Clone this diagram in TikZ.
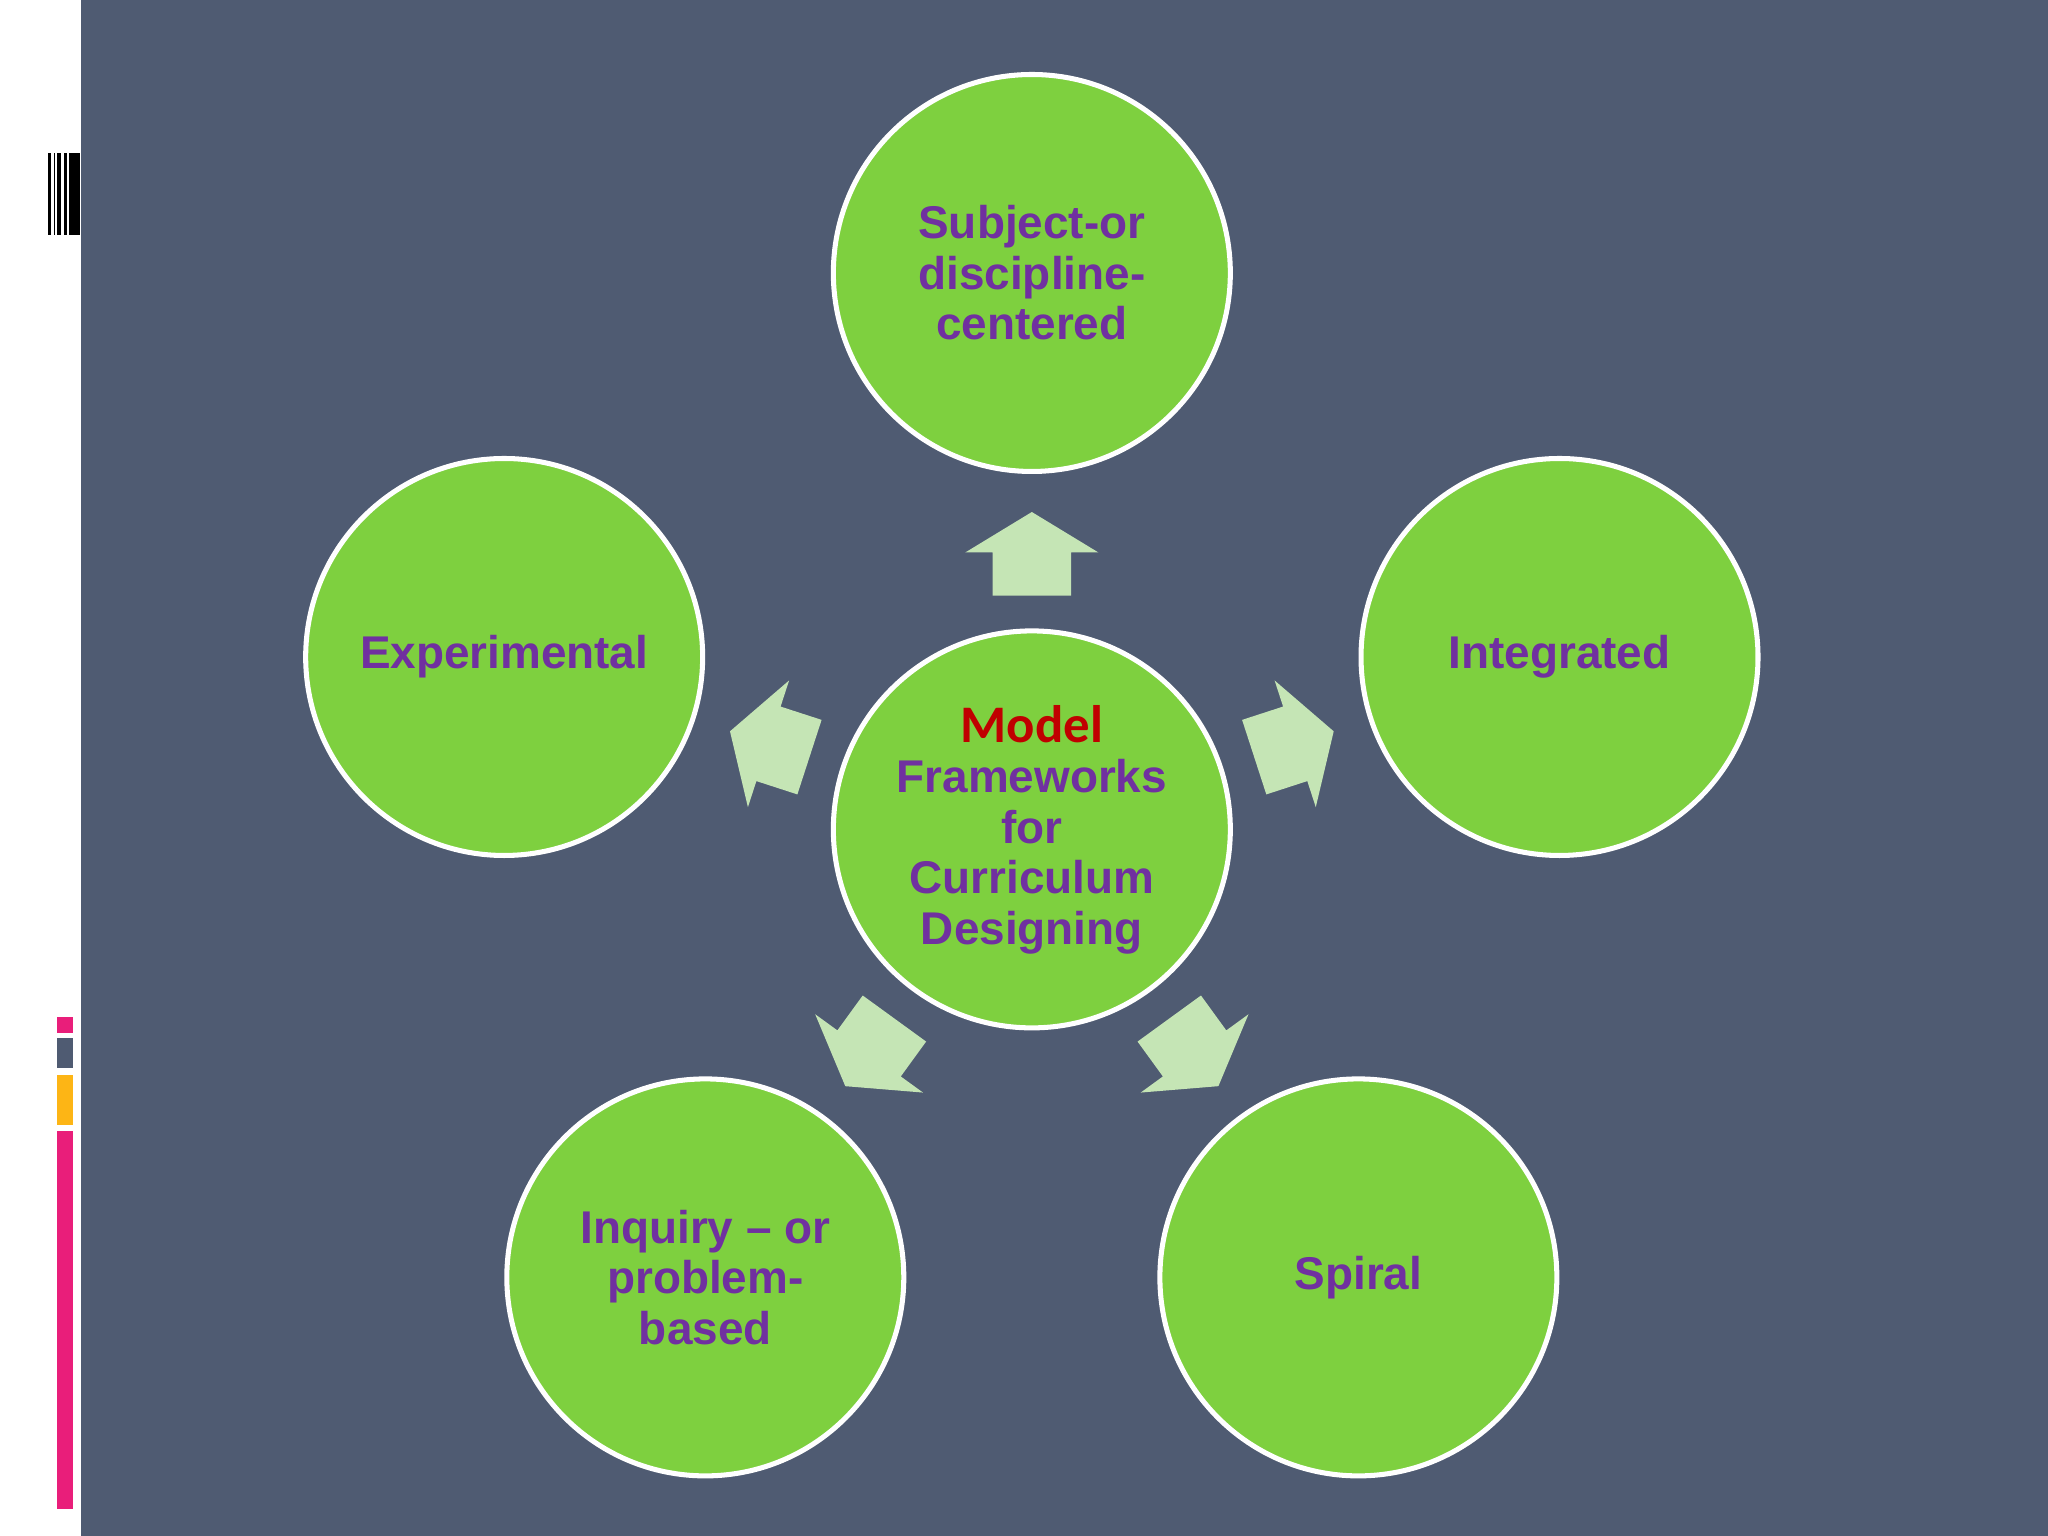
\documentclass[tikz,border=0pt]{standalone}
\usepackage{fontspec}
\setmainfont{Liberation Sans}
\newfontfamily\carl{Carlito}
\definecolor{bg}{HTML}{4F5B72}
\definecolor{gr}{HTML}{7ED03F}
\definecolor{lg}{HTML}{C5E5B5}
\definecolor{pu}{HTML}{7030A0}
\definecolor{rd}{HTML}{C00000}
\definecolor{pk}{HTML}{E91E7A}
\definecolor{og}{HTML}{FDB515}
\begin{document}
\begin{tikzpicture}[x=0.02cm,y=-0.02cm,
  circ/.style={circle,fill=gr,draw=white,line width=2.2pt,minimum size=6.08cm,inner sep=0pt,
    align=center,font=\fontsize{20}{22}\selectfont\bfseries,text=pu},
  blk/.style={fill=lg,draw=none}]
\useasboundingbox (0,0) rectangle (1568,1176);
\fill[white] (0,0) rectangle (1568,1176);
\fill[bg] (62,0) rectangle (1568,1176);
% barcode
\foreach \x/\w in {37/2,41/1,44/3,49/2,53/8}{\fill[black] (\x,117) rectangle ++(\w,63);}
\fill[pk] (44,779) rectangle (56,791);
\fill[bg] (44,795) rectangle (56,818);
\fill[og] (44,823) rectangle (56,861);
\fill[pk] (44,866) rectangle (56,1155);
% circles
\node[circ] (c) at (790,635) {\carl\fontsize{23}{27.5}\selectfont\bfseries\color{rd}Model\\Frameworks\\for\\Curriculum\\Designing};
\node[circ] (t) at (790,209) {Subject-or\\discipline-\\centered};
\node[circ] (l) at (386,503) {Experimental};
\node[circ] (r) at (1194,503) {Integrated};
\node[circ] (bl) at (540,978) {Inquiry -- or\\problem-\\based};
\node[circ] (br) at (1040,978) {Spiral};
% block arrows (local frame: pointing up from center)
\foreach \a in {0,-72,72,-144,144}{
  \fill[blk,shift={(c.center)},rotate=\a]
   (-30,-179) -- (-30,-212) -- (-51,-212) -- (0,-243) -- (51,-212) -- (30,-212) -- (30,-179) -- cycle;
}
\end{tikzpicture}
\end{document}
